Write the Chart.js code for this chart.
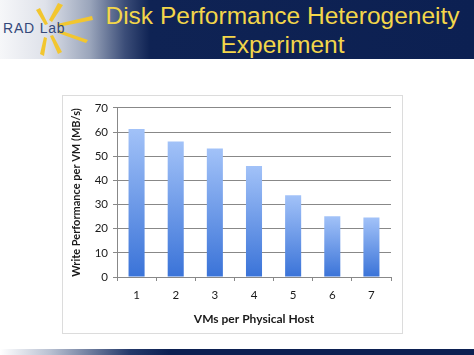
<!DOCTYPE html>
<html><head><meta charset="utf-8">
<script src="https://cdn.jsdelivr.net/npm/chart.js@4"></script>
<style>
html,body{margin:0;padding:0;background:#fff;width:474px;height:355px;overflow:hidden;position:relative;font-family:"Liberation Sans",Arial,sans-serif}
#banner{position:absolute;left:0;top:0;width:474px;height:59px;background:linear-gradient(to right,#f6f7f9 0px,#dfe2ea 45px,#9aa5bb 90px,#3b4d78 125px,#0f2354 150px,#0c2052 100%)}
#title{position:absolute;left:95px;width:375px;top:0;text-align:center;color:#f3d64a;font-size:24.5px;line-height:29px;padding-top:1px}
#logo{position:absolute;left:0;top:0}
#logotext{position:absolute;left:3px;top:20px;font-size:14px;color:#34487a;letter-spacing:0.8px}
#footer{position:absolute;left:0;top:349px;width:474px;height:6px;background:linear-gradient(to right,#ffffff 0px,#b9c1d2 50px,#24396a 130px,#0c2052 170px,#0c2052 100%)}
#box{position:absolute;left:62px;top:95px;width:339px;height:237px;border:1px solid #dcdcdc}
canvas{display:block}
</style></head>
<body>
<div id="banner">
<svg id="logo" width="100" height="59">
<polygon points="36,10 40,8 48,24 45,25" fill="#f2c62f"/>
<polygon points="58,3 63,5 52,22 49,20" fill="#f2c62f"/>
<polygon points="92,16 93,20 58,27 57,24" fill="#f2c62f"/>
<polygon points="88,40 86,43 58,33 59,30" fill="#f2c62f"/>
<polygon points="62,52 58,54 50,36 53,35" fill="#f2c62f"/>
<polygon points="44,56 40,54 44,37 47,38" fill="#f2c62f"/>
</svg>
<div id="logotext">RAD Lab</div>
<div id="title">Disk Performance Heterogeneity<br>Experiment</div>
</div>
<div id="box"><canvas id="c" width="339" height="237"></canvas></div>
<div id="footer"></div>
<script>
const categories = ['1','2','3','4','5','6','7'];
const writePerf = [61.3, 56.1, 53.2, 46.0, 33.8, 25.1, 24.6];
const yTicks = [0,10,20,30,40,50,60,70];
const xTitle = 'VMs per Physical Host';
const yTitle = 'Write Performance per VM (MB/s)';

function barFill(ctx){
  const chart = ctx.chart;
  if(!chart.chartArea || !chart.scales.y) return '#6b9ae6';
  const ys = chart.scales.y;
  const top = ys.getPixelForValue(ctx.raw);
  const bot = ys.getPixelForValue(0);
  if(!isFinite(top) || top===bot) return '#6b9ae6';
  const g = chart.ctx.createLinearGradient(0, top, 0, bot);
  g.addColorStop(0, '#a2c2f8');
  g.addColorStop(1, '#3a73d8');
  return g;
}

new Chart(document.getElementById('c'), {
  type: 'bar',
  data: { labels: categories, datasets: [{ data: writePerf, backgroundColor: barFill, borderWidth: 0, barPercentage: 0.41, categoryPercentage: 1 }] },
  options: {
    responsive: false, animation: false, devicePixelRatio: 1,
    layout: { padding: { top: 10, right: 11, left: 0, bottom: 0 } },
    plugins: { legend: { display: false }, tooltip: { enabled: false } },
    scales: {
      x: {
        grid: { display: true, drawOnChartArea: false, drawTicks: true, tickLength: 4, color: '#888', offset: true },
        border: { display: true, color: '#888' },
        ticks: { color: '#1a1a1a', font: { family: 'Lato', size: 11.5 }, padding: 7 },
        title: { display: true, text: xTitle, color: '#1a1a1a', font: { family: 'Lato', size: 12, weight: 'bold' }, padding: { bottom: 7, top: 0 } },
        afterFit: s => { s.height = 56; }
      },
      y: {
        min: 0, max: 70,
        afterBuildTicks: s => { s.ticks = yTicks.map(v => ({ value: v })); },
        grid: { color: '#888', tickLength: 4 },
        border: { display: true, color: '#888' },
        ticks: { color: '#1a1a1a', font: { family: 'Lato', size: 11.5 }, padding: 5 },
        title: { display: true, text: yTitle, color: '#1a1a1a', font: { family: 'Lato', size: 11, weight: 'bold' }, padding: { top: 7, bottom: 0 } },
        afterFit: s => { s.width = 54; }
      }
    }
  }
});
</script>
</body></html>
